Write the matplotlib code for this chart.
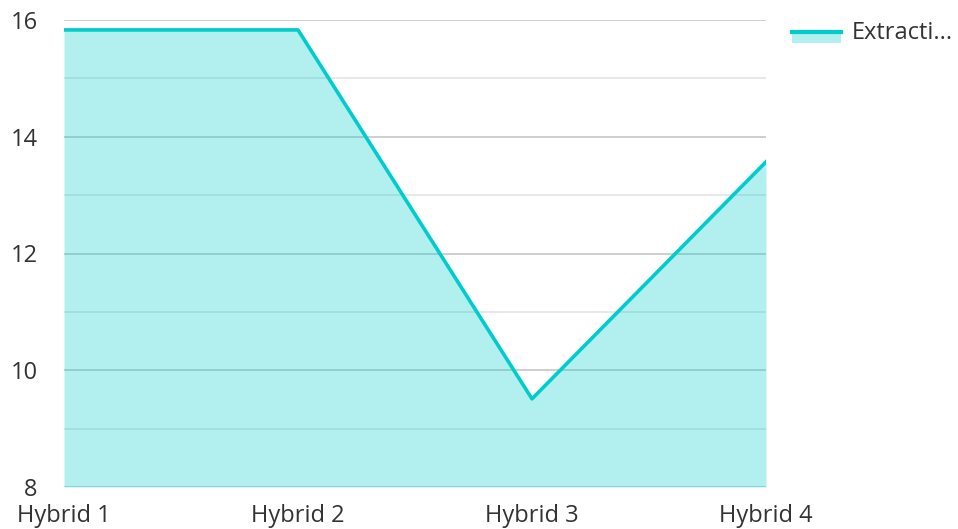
import matplotlib
matplotlib.use('Agg')
import matplotlib.pyplot as plt
from matplotlib.patches import Rectangle
from matplotlib.lines import Line2D

# Chart data
categories = ['Hybrid 1', 'Hybrid 2', 'Hybrid 3', 'Hybrid 4']
values = [15.83, 15.83, 9.51, 13.57]
series_name = 'Extracti...'
y_ticks = [8, 10, 12, 14, 16]
y_minor = [9, 11, 13, 15]

plt.rcParams['font.family'] = ['Open Sans', 'DejaVu Sans']

line_color = '#00cccc'
text_color = '#333333'

fig = plt.figure(figsize=(9.58, 5.29), dpi=100)
W, H = 958, 529
ax = fig.add_axes([64 / W, 1 - 487 / H, (766 - 64) / W, (487 - 20) / H])

x = list(range(len(categories)))
# gridlines first, translucent fill laid over them
for v in y_ticks:
    ax.axhline(v, color='#cccccc', lw=1.3, zorder=1)
for v in y_minor:
    ax.axhline(v, color='#e6e6e6', lw=1.3, zorder=1)
ax.fill_between(x, values, 8, color=line_color, alpha=0.3, lw=0, zorder=2)
ax.plot(x, values, color=line_color, lw=2.6, zorder=3)

ax.set_xlim(0, 3)
ax.set_ylim(8, 16)
ax.set_xticks(x)
ax.set_xticklabels(categories)
ax.set_yticks(y_ticks)
ax.tick_params(axis='both', length=0, labelsize=17, colors=text_color)
ax.tick_params(axis='y', pad=19)
ax.tick_params(axis='x', pad=12)
for s in ax.spines.values():
    s.set_visible(False)

# legend drawn by hand in figure pixels
lx0, lx1 = 792 / W, 841 / W
fig.patches.append(Rectangle((lx0, 1 - 43 / H), lx1 - lx0, 11 / H,
                             transform=fig.transFigure, color=line_color, alpha=0.3, lw=0))
fig.lines.append(Line2D([lx0, lx1], [1 - 31.5 / H, 1 - 31.5 / H],
                        transform=fig.transFigure, color=line_color, lw=3))
fig.text(852 / W, 1 - 33 / H, series_name, fontsize=17, color=text_color,
         va='center', ha='left')

fig.savefig('out.png', dpi=100)
